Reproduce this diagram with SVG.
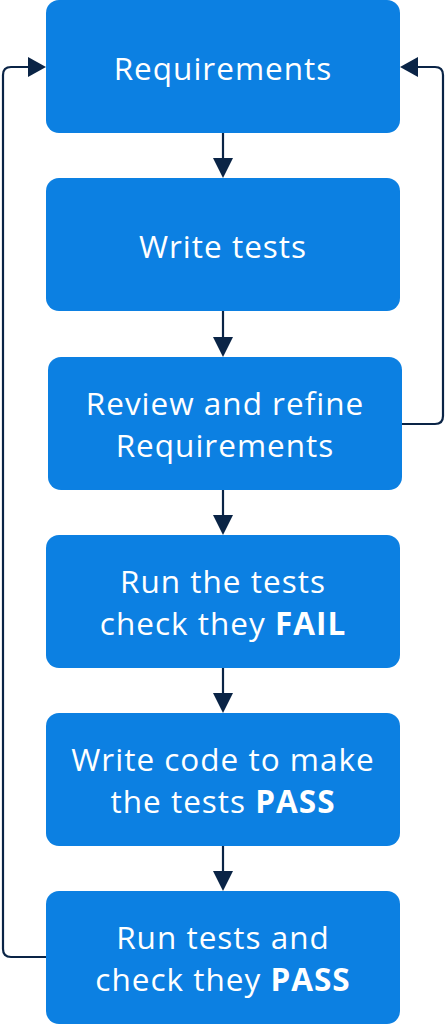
<svg xmlns="http://www.w3.org/2000/svg" width="446" height="1026" viewBox="0 0 446 1026">
<style>
.box{fill:#0c80e2}
.t{font-family:"Open Sans","Liberation Sans",sans-serif;font-size:31.5px;letter-spacing:1px;fill:#ffffff;text-anchor:middle}
.b{font-weight:bold}
.c{fill:none;stroke:#0a2446;stroke-width:2.2}
.h{fill:#0a2446}
</style>
<rect width="446" height="1026" fill="#ffffff"/>
<g id="connectors">
<path class="c" d="M223,133 V158"/>
<path class="h" d="M213,158 H233 L223,178 Z"/>
<path class="c" d="M223,311 V337"/>
<path class="h" d="M213,337 H233 L223,357 Z"/>
<path class="c" d="M223,490 V515"/>
<path class="h" d="M213,515 H233 L223,535 Z"/>
<path class="c" d="M223,668 V693"/>
<path class="h" d="M213,693 H233 L223,713 Z"/>
<path class="c" d="M223,846 V871"/>
<path class="h" d="M213,871 H233 L223,891 Z"/>
<path class="c" d="M46,957 H11 Q3,957 3,949 V75 Q3,67 11,67 H28"/>
<path class="h" d="M28,57 L46,67 L28,77 Z"/>
<path class="c" d="M402,424 H435 Q443,424 443,416 V75 Q443,67 435,67 H418"/>
<path class="h" d="M418,57 L400,67 L418,77 Z"/>
</g>
<g id="n1"><rect class="box" x="46" y="0" width="354" height="133" rx="13"/><text class="t" x="223" y="80">Requirements</text></g>
<g id="n2"><rect class="box" x="46" y="178" width="354" height="133" rx="13"/><text class="t" x="223" y="258">Write tests</text></g>
<g id="n3"><rect class="box" x="48" y="357" width="354" height="133" rx="13"/><text class="t" x="225" y="415">Review and refine</text><text class="t" x="225" y="457">Requirements</text></g>
<g id="n4"><rect class="box" x="46" y="535" width="354" height="133" rx="13"/><text class="t" x="223" y="593">Run the tests</text><text class="t" x="223" y="635">check they <tspan class="b">FAIL</tspan></text></g>
<g id="n5"><rect class="box" x="46" y="713" width="354" height="133" rx="13"/><text class="t" x="223" y="771">Write code to make</text><text class="t" x="223" y="813">the tests <tspan class="b">PASS</tspan></text></g>
<g id="n6"><rect class="box" x="46" y="891" width="354" height="133" rx="13"/><text class="t" x="223" y="949">Run tests and</text><text class="t" x="223" y="991">check they <tspan class="b">PASS</tspan></text></g>
</svg>
